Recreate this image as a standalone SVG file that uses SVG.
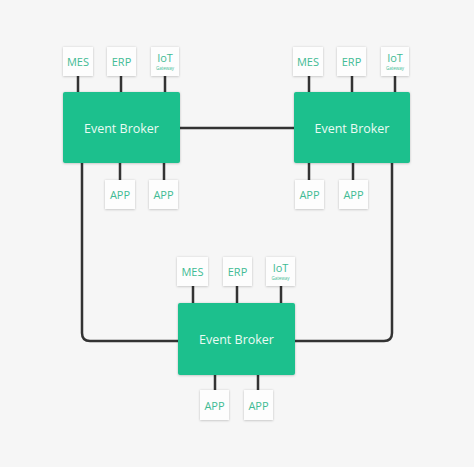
<svg xmlns="http://www.w3.org/2000/svg" width="474" height="467" viewBox="0 0 474 467">
<defs>
<filter id="sh" x="-30%" y="-30%" width="160%" height="160%">
<feDropShadow dx="0" dy="0.5" stdDeviation="1.2" flood-color="#000" flood-opacity="0.25"/>
</filter>
<style>
.bk{fill:#1cc08d;filter:url(#sh)}
.bx{fill:#fdfdfd;filter:url(#sh)}
.bt{font-family:"Open Sans","Noto Sans",sans-serif;font-size:12.5px;fill:#eafbf4;text-anchor:middle}
.lt{font-family:"Open Sans","Noto Sans",sans-serif;font-size:11px;fill:#3fbb94;text-anchor:middle}
.gt{font-family:"Open Sans","Noto Sans",sans-serif;font-size:4.5px;fill:#3fbb94;text-anchor:middle}
.ln{stroke:#333;stroke-width:2.5;fill:none}
</style>
</defs>
<rect width="474" height="467" fill="#f6f6f6"/>
<g id="connectors">
<path class="ln" d="M78 76V92M121 76V92M165 76V92M120 163V180M164 163V180"/>
<path class="ln" d="M309 76V92M352 76V92M395 76V92M309 163V180M353 163V180"/>
<path class="ln" d="M193 286V303M237 286V303M281 286V303M215 375V390M258 375V390"/>
<path class="ln" d="M180 128H294"/>
<path class="ln" d="M82 163V333Q82 341 90 341H178"/>
<path class="ln" d="M392 163V333Q392 341 384 341H295"/>
</g>
<g id="broker1"><rect class="bk" x="63" y="92" width="117" height="71" rx="2"/><text class="bt" x="121.5" y="132.5">Event Broker</text></g>
<g id="broker2"><rect class="bk" x="294" y="92" width="116" height="71" rx="2"/><text class="bt" x="352" y="132.5">Event Broker</text></g>
<g id="broker3"><rect class="bk" x="178" y="303" width="117" height="72" rx="2"/><text class="bt" x="236.5" y="344">Event Broker</text></g>
<g id="mes1"><rect class="bx" x="63" y="47" width="30" height="29"/><text class="lt" x="78" y="66">MES</text></g>
<g id="erp1"><rect class="bx" x="107" y="47" width="29" height="29"/><text class="lt" x="121.5" y="66">ERP</text></g>
<g id="iot1"><rect class="bx" x="151" y="47" width="28" height="29"/><text class="lt" x="165" y="62">IoT</text><text class="gt" x="165" y="70">Gateway</text></g>
<g id="app1a"><rect class="bx" x="105" y="180" width="30" height="29"/><text class="lt" x="120" y="199">APP</text></g>
<g id="app1b"><rect class="bx" x="149" y="180" width="29" height="29"/><text class="lt" x="163.5" y="199">APP</text></g>
<g id="mes2"><rect class="bx" x="293" y="47" width="30" height="29"/><text class="lt" x="308" y="66">MES</text></g>
<g id="erp2"><rect class="bx" x="337" y="47" width="29" height="29"/><text class="lt" x="351.5" y="66">ERP</text></g>
<g id="iot2"><rect class="bx" x="381" y="47" width="28" height="29"/><text class="lt" x="395" y="62">IoT</text><text class="gt" x="395" y="70">Gateway</text></g>
<g id="app2a"><rect class="bx" x="295" y="180" width="29" height="29"/><text class="lt" x="309.5" y="199">APP</text></g>
<g id="app2b"><rect class="bx" x="339" y="180" width="29" height="29"/><text class="lt" x="353.5" y="199">APP</text></g>
<g id="mes3"><rect class="bx" x="177" y="257" width="31" height="29"/><text class="lt" x="192.5" y="276">MES</text></g>
<g id="erp3"><rect class="bx" x="223" y="257" width="29" height="29"/><text class="lt" x="237.5" y="276">ERP</text></g>
<g id="iot3"><rect class="bx" x="266" y="257" width="29" height="29"/><text class="lt" x="280.5" y="272">IoT</text><text class="gt" x="280.5" y="280">Gateway</text></g>
<g id="app3a"><rect class="bx" x="200" y="390" width="29" height="30"/><text class="lt" x="214.5" y="409.5">APP</text></g>
<g id="app3b"><rect class="bx" x="244" y="390" width="29" height="30"/><text class="lt" x="258.5" y="409.5">APP</text></g>
</svg>
